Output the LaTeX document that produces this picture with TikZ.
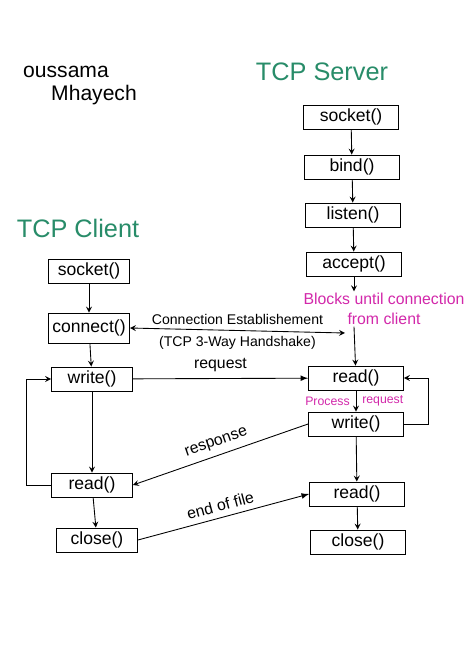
\documentclass[tikz,border=0pt]{standalone}
\usepackage{fontspec}
\setmainfont{Liberation Sans}
\definecolor{penGreen}{RGB}{40,140,105}
\definecolor{penPink}{RGB}{210,40,170}
\tikzset{
  func/.style={draw, minimum height=0.48cm, inner sep=2pt},
  cfunc/.style={func, minimum width=1.62cm},
  sfunc/.style={func, minimum width=1.9cm},
  note/.style={text=penPink, font=\small},
  title/.style={text=penGreen, font=\Large},
  author/.style={font=\large},
}
\begin{document}
\begin{tikzpicture}[x=0.02cm, y=-0.02cm, line width=0.5pt, >=stealth]
        \useasboundingbox (0,0) rectangle (474,649);
        % Titles
        \node at (66,72) [author] (name1) {oussama};
        \node at (94,95) [author] (name2) {Mhayech};
        \node at (322,72) [title] (server) {TCP Server};
        \node at (78,228) [title] (client) {TCP Client};

        % Server nodes
        \node at (351,117) [sfunc] (ssocket) {socket()};
        \node at (352,167) [sfunc] (sbind) {bind()};
        \node at (353,215) [sfunc] (slisten) {listen()};
        \node at (354,264) [sfunc] (saccept) {accept()};
        \node at (384,309) [note, align=center, inner sep=1pt] (blocks) {Blocks until connection\\from client};
        \node at (356,378) [sfunc] (sread) {read()};
        \node at (356,424) [sfunc] (swrite) {write()};
        \node at (357,494) [sfunc] (sread2) {read()};
        \node at (358,542) [sfunc] (sclose) {close()};

        % Client nodes
        \node at (89,271) [cfunc] (csocket) {socket()};
        \node at (89,328) [cfunc, minimum height=0.6cm] (cconnect) {connect()};
        \node at (92,379) [cfunc] (cwrite) {write()};
        \node at (92,485) [cfunc] (cread) {read()};
        \node at (97,540) [cfunc] (cclose) {close()};
        \coordinate (hs) at (345,333);

        % Server arrows
        \draw[->] (ssocket) -- (sbind);
        \draw[->] (sbind) -- (slisten);
        \draw[->] (slisten) -- (saccept);
        \draw[->] (saccept) -- (saccept |- blocks.north);
        \draw[->] (saccept |- blocks.south) -- (sread);
        \draw[->] (sread) -- (swrite)
        node[midway, left, note, font=\scriptsize] {Process}
        node[midway, right, note, font=\scriptsize] {request};
        \draw[->] (swrite.east) -- ++(25,0) |- (sread.east);
        \draw[->] (swrite) -- (sread2);
        \draw[->] (sread2) -- (sclose);

        % Client arrows
        \draw[->] (csocket) -- (cconnect);
        \draw[->] (cconnect) -- (cwrite);
        \draw[->] (cwrite) -- (cread);
        \draw[->] (cread.west) -- ++(-25,0) |- (cwrite.west);
        \draw[->] (cread) -- (cclose);

        % Between client and server
        \draw[<->] (cconnect.east) -- (hs)
        node[midway, above, font=\footnotesize] {Connection Establishement}
        node[midway, below, font=\footnotesize] {(TCP 3-Way Handshake)};
        \draw[-latex] (cwrite) -- (sread)
        node[midway, above, font=\small] {request};
        \draw[->] (swrite.west) -- (cread.east)
        node[midway, above, sloped, font=\small] {response};
        \draw[-latex] (cclose.east) -- (sread2.west)
        node[midway, above, sloped, font=\small] {end of file};
    \end{tikzpicture}
\end{document}
